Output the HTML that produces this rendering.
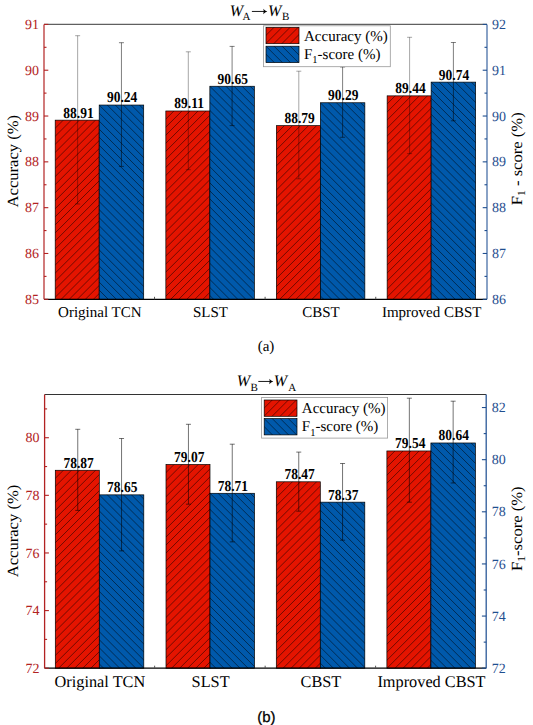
<!DOCTYPE html>
<html><head><meta charset="utf-8"><style>
html,body{margin:0;padding:0;background:#fff;}
svg{display:block;}
</style></head><body>
<svg text-rendering="geometricPrecision" width="533" height="725" viewBox="0 0 533 725" font-family="Liberation Serif, serif" fill="#000">
<defs>
<clipPath id="c0"><rect x="55.20" y="120.16" width="44.00" height="179.14"/></clipPath>
<clipPath id="c1"><rect x="99.20" y="105.04" width="44.50" height="194.26"/></clipPath>
<clipPath id="c2"><rect x="165.85" y="110.99" width="44.00" height="188.31"/></clipPath>
<clipPath id="c3"><rect x="209.85" y="86.25" width="44.50" height="213.05"/></clipPath>
<clipPath id="c4"><rect x="276.35" y="125.65" width="44.00" height="173.65"/></clipPath>
<clipPath id="c5"><rect x="320.35" y="102.75" width="44.50" height="196.55"/></clipPath>
<clipPath id="c6"><rect x="387.15" y="95.87" width="44.00" height="203.43"/></clipPath>
<clipPath id="c7"><rect x="431.15" y="82.13" width="44.50" height="217.17"/></clipPath>
<clipPath id="c8"><rect x="266.00" y="27.30" width="33.00" height="16.40"/></clipPath>
<clipPath id="c9"><rect x="266.00" y="46.20" width="33.00" height="16.40"/></clipPath>
<clipPath id="c10"><rect x="55.30" y="470.27" width="44.00" height="197.93"/></clipPath>
<clipPath id="c11"><rect x="99.30" y="494.86" width="44.50" height="173.34"/></clipPath>
<clipPath id="c12"><rect x="166.00" y="464.51" width="44.00" height="203.69"/></clipPath>
<clipPath id="c13"><rect x="210.00" y="493.29" width="44.50" height="174.91"/></clipPath>
<clipPath id="c14"><rect x="276.30" y="481.80" width="44.00" height="186.40"/></clipPath>
<clipPath id="c15"><rect x="320.30" y="502.16" width="44.50" height="166.04"/></clipPath>
<clipPath id="c16"><rect x="386.90" y="450.97" width="44.00" height="217.23"/></clipPath>
<clipPath id="c17"><rect x="430.90" y="442.98" width="44.50" height="225.22"/></clipPath>
<clipPath id="c18"><rect x="264.20" y="400.00" width="32.80" height="16.30"/></clipPath>
<clipPath id="c19"><rect x="264.20" y="418.60" width="32.80" height="16.30"/></clipPath>
</defs>
<rect x="55.20" y="120.16" width="44.00" height="179.14" fill="#E41400"/><path clip-path="url(#c0)" d="M-124.94 300.30L56.20 119.16M-116.89 300.30L64.25 119.16M-108.84 300.30L72.30 119.16M-100.79 300.30L80.35 119.16M-92.74 300.30L88.40 119.16M-84.69 300.30L96.45 119.16M-76.64 300.30L104.50 119.16M-68.59 300.30L112.55 119.16M-60.54 300.30L120.60 119.16M-52.49 300.30L128.65 119.16M-44.44 300.30L136.70 119.16M-36.39 300.30L144.75 119.16M-28.34 300.30L152.80 119.16M-20.29 300.30L160.85 119.16M-12.24 300.30L168.90 119.16M-4.19 300.30L176.95 119.16M3.86 300.30L185.00 119.16M11.91 300.30L193.05 119.16M19.96 300.30L201.10 119.16M28.01 300.30L209.15 119.16M36.06 300.30L217.20 119.16M44.11 300.30L225.25 119.16M52.16 300.30L233.30 119.16M60.21 300.30L241.35 119.16M68.26 300.30L249.40 119.16M76.31 300.30L257.45 119.16M84.36 300.30L265.50 119.16M92.41 300.30L273.55 119.16" stroke="#000" stroke-opacity="0.85" stroke-width="0.6" fill="none"/><rect x="55.20" y="120.16" width="44.00" height="179.14" fill="none" stroke="#000" stroke-width="0.7"/>
<rect x="99.20" y="105.04" width="44.50" height="194.26" fill="#0059AB"/><path clip-path="url(#c1)" d="M-111.10 104.04L85.16 300.30M-103.05 104.04L93.21 300.30M-95.00 104.04L101.26 300.30M-86.95 104.04L109.31 300.30M-78.90 104.04L117.36 300.30M-70.85 104.04L125.41 300.30M-62.80 104.04L133.46 300.30M-54.75 104.04L141.51 300.30M-46.70 104.04L149.56 300.30M-38.65 104.04L157.61 300.30M-30.60 104.04L165.66 300.30M-22.55 104.04L173.71 300.30M-14.50 104.04L181.76 300.30M-6.45 104.04L189.81 300.30M1.60 104.04L197.86 300.30M9.65 104.04L205.91 300.30M17.70 104.04L213.96 300.30M25.75 104.04L222.01 300.30M33.80 104.04L230.06 300.30M41.85 104.04L238.11 300.30M49.90 104.04L246.16 300.30M57.95 104.04L254.21 300.30M66.00 104.04L262.26 300.30M74.05 104.04L270.31 300.30M82.10 104.04L278.36 300.30M90.15 104.04L286.41 300.30M98.20 104.04L294.46 300.30M106.25 104.04L302.51 300.30M114.30 104.04L310.56 300.30M122.35 104.04L318.61 300.30M130.40 104.04L326.66 300.30M138.45 104.04L334.71 300.30" stroke="#000" stroke-opacity="0.85" stroke-width="0.6" fill="none"/><rect x="99.20" y="105.04" width="44.50" height="194.26" fill="none" stroke="#000" stroke-width="0.7"/>
<rect x="165.85" y="110.99" width="44.00" height="188.31" fill="#E41400"/><path clip-path="url(#c2)" d="M-23.46 300.30L166.85 109.99M-15.41 300.30L174.90 109.99M-7.36 300.30L182.95 109.99M0.69 300.30L191.00 109.99M8.74 300.30L199.05 109.99M16.79 300.30L207.10 109.99M24.84 300.30L215.15 109.99M32.89 300.30L223.20 109.99M40.94 300.30L231.25 109.99M48.99 300.30L239.30 109.99M57.04 300.30L247.35 109.99M65.09 300.30L255.40 109.99M73.14 300.30L263.45 109.99M81.19 300.30L271.50 109.99M89.24 300.30L279.55 109.99M97.29 300.30L287.60 109.99M105.34 300.30L295.65 109.99M113.39 300.30L303.70 109.99M121.44 300.30L311.75 109.99M129.49 300.30L319.80 109.99M137.54 300.30L327.85 109.99M145.59 300.30L335.90 109.99M153.64 300.30L343.95 109.99M161.69 300.30L352.00 109.99M169.74 300.30L360.05 109.99M177.79 300.30L368.10 109.99M185.84 300.30L376.15 109.99M193.89 300.30L384.20 109.99M201.94 300.30L392.25 109.99" stroke="#000" stroke-opacity="0.85" stroke-width="0.6" fill="none"/><rect x="165.85" y="110.99" width="44.00" height="188.31" fill="none" stroke="#000" stroke-width="0.7"/>
<rect x="209.85" y="86.25" width="44.50" height="213.05" fill="#0059AB"/><path clip-path="url(#c3)" d="M-16.55 85.25L198.50 300.30M-8.50 85.25L206.55 300.30M-0.45 85.25L214.60 300.30M7.60 85.25L222.65 300.30M15.65 85.25L230.70 300.30M23.70 85.25L238.75 300.30M31.75 85.25L246.80 300.30M39.80 85.25L254.85 300.30M47.85 85.25L262.90 300.30M55.90 85.25L270.95 300.30M63.95 85.25L279.00 300.30M72.00 85.25L287.05 300.30M80.05 85.25L295.10 300.30M88.10 85.25L303.15 300.30M96.15 85.25L311.20 300.30M104.20 85.25L319.25 300.30M112.25 85.25L327.30 300.30M120.30 85.25L335.35 300.30M128.35 85.25L343.40 300.30M136.40 85.25L351.45 300.30M144.45 85.25L359.50 300.30M152.50 85.25L367.55 300.30M160.55 85.25L375.60 300.30M168.60 85.25L383.65 300.30M176.65 85.25L391.70 300.30M184.70 85.25L399.75 300.30M192.75 85.25L407.80 300.30M200.80 85.25L415.85 300.30M208.85 85.25L423.90 300.30M216.90 85.25L431.95 300.30M224.95 85.25L440.00 300.30M233.00 85.25L448.05 300.30M241.05 85.25L456.10 300.30M249.10 85.25L464.15 300.30" stroke="#000" stroke-opacity="0.85" stroke-width="0.6" fill="none"/><rect x="209.85" y="86.25" width="44.50" height="213.05" fill="none" stroke="#000" stroke-width="0.7"/>
<rect x="276.35" y="125.65" width="44.00" height="173.65" fill="#E41400"/><path clip-path="url(#c4)" d="M101.70 300.30L277.35 124.65M109.75 300.30L285.40 124.65M117.80 300.30L293.45 124.65M125.85 300.30L301.50 124.65M133.90 300.30L309.55 124.65M141.95 300.30L317.60 124.65M150.00 300.30L325.65 124.65M158.05 300.30L333.70 124.65M166.10 300.30L341.75 124.65M174.15 300.30L349.80 124.65M182.20 300.30L357.85 124.65M190.25 300.30L365.90 124.65M198.30 300.30L373.95 124.65M206.35 300.30L382.00 124.65M214.40 300.30L390.05 124.65M222.45 300.30L398.10 124.65M230.50 300.30L406.15 124.65M238.55 300.30L414.20 124.65M246.60 300.30L422.25 124.65M254.65 300.30L430.30 124.65M262.70 300.30L438.35 124.65M270.75 300.30L446.40 124.65M278.80 300.30L454.45 124.65M286.85 300.30L462.50 124.65M294.90 300.30L470.55 124.65M302.95 300.30L478.60 124.65M311.00 300.30L486.65 124.65M319.05 300.30L494.70 124.65" stroke="#000" stroke-opacity="0.85" stroke-width="0.6" fill="none"/><rect x="276.35" y="125.65" width="44.00" height="173.65" fill="none" stroke="#000" stroke-width="0.7"/>
<rect x="320.35" y="102.75" width="44.50" height="196.55" fill="#0059AB"/><path clip-path="url(#c5)" d="M110.05 101.75L308.60 300.30M118.10 101.75L316.65 300.30M126.15 101.75L324.70 300.30M134.20 101.75L332.75 300.30M142.25 101.75L340.80 300.30M150.30 101.75L348.85 300.30M158.35 101.75L356.90 300.30M166.40 101.75L364.95 300.30M174.45 101.75L373.00 300.30M182.50 101.75L381.05 300.30M190.55 101.75L389.10 300.30M198.60 101.75L397.15 300.30M206.65 101.75L405.20 300.30M214.70 101.75L413.25 300.30M222.75 101.75L421.30 300.30M230.80 101.75L429.35 300.30M238.85 101.75L437.40 300.30M246.90 101.75L445.45 300.30M254.95 101.75L453.50 300.30M263.00 101.75L461.55 300.30M271.05 101.75L469.60 300.30M279.10 101.75L477.65 300.30M287.15 101.75L485.70 300.30M295.20 101.75L493.75 300.30M303.25 101.75L501.80 300.30M311.30 101.75L509.85 300.30M319.35 101.75L517.90 300.30M327.40 101.75L525.95 300.30M335.45 101.75L534.00 300.30M343.50 101.75L542.05 300.30M351.55 101.75L550.10 300.30M359.60 101.75L558.15 300.30" stroke="#000" stroke-opacity="0.85" stroke-width="0.6" fill="none"/><rect x="320.35" y="102.75" width="44.50" height="196.55" fill="none" stroke="#000" stroke-width="0.7"/>
<rect x="387.15" y="95.87" width="44.00" height="203.43" fill="#E41400"/><path clip-path="url(#c6)" d="M182.72 300.30L388.15 94.87M190.77 300.30L396.20 94.87M198.82 300.30L404.25 94.87M206.87 300.30L412.30 94.87M214.92 300.30L420.35 94.87M222.97 300.30L428.40 94.87M231.02 300.30L436.45 94.87M239.07 300.30L444.50 94.87M247.12 300.30L452.55 94.87M255.17 300.30L460.60 94.87M263.22 300.30L468.65 94.87M271.27 300.30L476.70 94.87M279.32 300.30L484.75 94.87M287.37 300.30L492.80 94.87M295.42 300.30L500.85 94.87M303.47 300.30L508.90 94.87M311.52 300.30L516.95 94.87M319.57 300.30L525.00 94.87M327.62 300.30L533.05 94.87M335.67 300.30L541.10 94.87M343.72 300.30L549.15 94.87M351.77 300.30L557.20 94.87M359.82 300.30L565.25 94.87M367.87 300.30L573.30 94.87M375.92 300.30L581.35 94.87M383.97 300.30L589.40 94.87M392.02 300.30L597.45 94.87M400.07 300.30L605.50 94.87M408.12 300.30L613.55 94.87M416.17 300.30L621.60 94.87M424.22 300.30L629.65 94.87" stroke="#000" stroke-opacity="0.85" stroke-width="0.6" fill="none"/><rect x="387.15" y="95.87" width="44.00" height="203.43" fill="none" stroke="#000" stroke-width="0.7"/>
<rect x="431.15" y="82.13" width="44.50" height="217.17" fill="#0059AB"/><path clip-path="url(#c7)" d="M204.75 81.13L423.92 300.30M212.80 81.13L431.97 300.30M220.85 81.13L440.02 300.30M228.90 81.13L448.07 300.30M236.95 81.13L456.12 300.30M245.00 81.13L464.17 300.30M253.05 81.13L472.22 300.30M261.10 81.13L480.27 300.30M269.15 81.13L488.32 300.30M277.20 81.13L496.37 300.30M285.25 81.13L504.42 300.30M293.30 81.13L512.47 300.30M301.35 81.13L520.52 300.30M309.40 81.13L528.57 300.30M317.45 81.13L536.62 300.30M325.50 81.13L544.67 300.30M333.55 81.13L552.72 300.30M341.60 81.13L560.77 300.30M349.65 81.13L568.82 300.30M357.70 81.13L576.87 300.30M365.75 81.13L584.92 300.30M373.80 81.13L592.97 300.30M381.85 81.13L601.02 300.30M389.90 81.13L609.07 300.30M397.95 81.13L617.12 300.30M406.00 81.13L625.17 300.30M414.05 81.13L633.22 300.30M422.10 81.13L641.27 300.30M430.15 81.13L649.32 300.30M438.20 81.13L657.37 300.30M446.25 81.13L665.42 300.30M454.30 81.13L673.47 300.30M462.35 81.13L681.52 300.30M470.40 81.13L689.57 300.30" stroke="#000" stroke-opacity="0.85" stroke-width="0.6" fill="none"/><rect x="431.15" y="82.13" width="44.50" height="217.17" fill="none" stroke="#000" stroke-width="0.7"/>
<path d="M77.65 35.70V204.00M75.15 35.70H80.15M75.15 204.00H80.15" stroke="#000" stroke-opacity="0.35" stroke-width="1" fill="none"/>
<path d="M121.45 42.70V166.40M118.95 42.70H123.95M118.95 166.40H123.95" stroke="#000" stroke-opacity="0.5" stroke-width="1" fill="none"/>
<path d="M188.30 51.80V169.70M185.80 51.80H190.80M185.80 169.70H190.80" stroke="#000" stroke-opacity="0.35" stroke-width="1" fill="none"/>
<path d="M232.10 46.40V125.60M229.60 46.40H234.60M229.60 125.60H234.60" stroke="#000" stroke-opacity="0.5" stroke-width="1" fill="none"/>
<path d="M298.80 71.20V178.80M296.30 71.20H301.30M296.30 178.80H301.30" stroke="#000" stroke-opacity="0.35" stroke-width="1" fill="none"/>
<path d="M342.60 67.00V137.30M340.10 67.00H345.10M340.10 137.30H345.10" stroke="#000" stroke-opacity="0.5" stroke-width="1" fill="none"/>
<path d="M409.60 37.30V153.60M407.10 37.30H412.10M407.10 153.60H412.10" stroke="#000" stroke-opacity="0.35" stroke-width="1" fill="none"/>
<path d="M453.40 42.50V120.80M450.90 42.50H455.90M450.90 120.80H455.90" stroke="#000" stroke-opacity="0.5" stroke-width="1" fill="none"/>
<text transform="translate(78.50 117.56) scale(1 1.13)" text-anchor="middle" font-weight="bold" font-size="13.5">88.91</text>
<text transform="translate(122.10 102.44) scale(1 1.13)" text-anchor="middle" font-weight="bold" font-size="13.5">90.24</text>
<text transform="translate(189.15 108.39) scale(1 1.13)" text-anchor="middle" font-weight="bold" font-size="13.5">89.11</text>
<text transform="translate(232.75 83.65) scale(1 1.13)" text-anchor="middle" font-weight="bold" font-size="13.5">90.65</text>
<text transform="translate(299.65 123.05) scale(1 1.13)" text-anchor="middle" font-weight="bold" font-size="13.5">88.79</text>
<text transform="translate(343.25 100.15) scale(1 1.13)" text-anchor="middle" font-weight="bold" font-size="13.5">90.29</text>
<text transform="translate(410.45 93.27) scale(1 1.13)" text-anchor="middle" font-weight="bold" font-size="13.5">89.44</text>
<text transform="translate(454.05 79.53) scale(1 1.13)" text-anchor="middle" font-weight="bold" font-size="13.5">90.74</text>
<path d="M44.00 24.40H487.00" stroke="#606060" stroke-width="1.1"/>
<path d="M44.00 299.30H487.00" stroke="#000" stroke-width="1.2"/>
<path d="M154.53 299.30v-2.5" stroke="#555" stroke-width="1"/>
<path d="M265.10 299.30v-2.5" stroke="#555" stroke-width="1"/>
<path d="M375.75 299.30v-2.5" stroke="#555" stroke-width="1"/>
<path d="M44.00 24.40V299.30" stroke="#B22222" stroke-width="1.2"/>
<path d="M44.00 299.30h4.3" stroke="#B22222" stroke-width="1.1"/>
<text x="38.90" y="303.90" text-anchor="end" font-size="14" fill="#B22222">85</text>
<path d="M44.00 253.48h4.3" stroke="#B22222" stroke-width="1.1"/>
<text x="38.90" y="258.08" text-anchor="end" font-size="14" fill="#B22222">86</text>
<path d="M44.00 207.67h4.3" stroke="#B22222" stroke-width="1.1"/>
<text x="38.90" y="212.27" text-anchor="end" font-size="14" fill="#B22222">87</text>
<path d="M44.00 161.85h4.3" stroke="#B22222" stroke-width="1.1"/>
<text x="38.90" y="166.45" text-anchor="end" font-size="14" fill="#B22222">88</text>
<path d="M44.00 116.03h4.3" stroke="#B22222" stroke-width="1.1"/>
<text x="38.90" y="120.63" text-anchor="end" font-size="14" fill="#B22222">89</text>
<path d="M44.00 70.22h4.3" stroke="#B22222" stroke-width="1.1"/>
<text x="38.90" y="74.82" text-anchor="end" font-size="14" fill="#B22222">90</text>
<path d="M44.00 24.40h4.3" stroke="#B22222" stroke-width="1.1"/>
<text x="38.90" y="29.00" text-anchor="end" font-size="14" fill="#B22222">91</text>
<path d="M44.00 276.39h2.5" stroke="#B22222" stroke-width="1.1"/>
<path d="M44.00 230.57h2.5" stroke="#B22222" stroke-width="1.1"/>
<path d="M44.00 184.76h2.5" stroke="#B22222" stroke-width="1.1"/>
<path d="M44.00 138.94h2.5" stroke="#B22222" stroke-width="1.1"/>
<path d="M44.00 93.12h2.5" stroke="#B22222" stroke-width="1.1"/>
<path d="M44.00 47.31h2.5" stroke="#B22222" stroke-width="1.1"/>
<path d="M487.00 24.40V299.30" stroke="#3A64A0" stroke-width="1.2"/>
<path d="M487.00 299.30h-4.3" stroke="#1F4E8F" stroke-width="1.1"/>
<text x="492.00" y="303.90" font-size="14" fill="#1F4E8F">86</text>
<path d="M487.00 253.48h-4.3" stroke="#1F4E8F" stroke-width="1.1"/>
<text x="492.00" y="258.08" font-size="14" fill="#1F4E8F">87</text>
<path d="M487.00 207.67h-4.3" stroke="#1F4E8F" stroke-width="1.1"/>
<text x="492.00" y="212.27" font-size="14" fill="#1F4E8F">88</text>
<path d="M487.00 161.85h-4.3" stroke="#1F4E8F" stroke-width="1.1"/>
<text x="492.00" y="166.45" font-size="14" fill="#1F4E8F">89</text>
<path d="M487.00 116.03h-4.3" stroke="#1F4E8F" stroke-width="1.1"/>
<text x="492.00" y="120.63" font-size="14" fill="#1F4E8F">90</text>
<path d="M487.00 70.22h-4.3" stroke="#1F4E8F" stroke-width="1.1"/>
<text x="492.00" y="74.82" font-size="14" fill="#1F4E8F">91</text>
<path d="M487.00 24.40h-4.3" stroke="#1F4E8F" stroke-width="1.1"/>
<text x="492.00" y="29.00" font-size="14" fill="#1F4E8F">92</text>
<path d="M487.00 276.39h-2.5" stroke="#1F4E8F" stroke-width="1.1"/>
<path d="M487.00 230.57h-2.5" stroke="#1F4E8F" stroke-width="1.1"/>
<path d="M487.00 184.76h-2.5" stroke="#1F4E8F" stroke-width="1.1"/>
<path d="M487.00 138.94h-2.5" stroke="#1F4E8F" stroke-width="1.1"/>
<path d="M487.00 93.12h-2.5" stroke="#1F4E8F" stroke-width="1.1"/>
<path d="M487.00 47.31h-2.5" stroke="#1F4E8F" stroke-width="1.1"/>
<text x="99.80" y="317.10" text-anchor="middle" font-size="15">Original TCN</text>
<text x="210.45" y="317.10" text-anchor="middle" font-size="15">SLST</text>
<text x="320.95" y="317.10" text-anchor="middle" font-size="15">CBST</text>
<text x="431.75" y="317.10" text-anchor="middle" font-size="15">Improved CBST</text>
<text transform="translate(17.9 161.20) rotate(-90) scale(1.07 1)" text-anchor="middle" font-size="15.5">Accuracy (%)</text>
<text transform="translate(522.0 158.80) rotate(-90) scale(1.07 1)" text-anchor="middle" font-size="15.5">F<tspan font-size="11" dy="3">1</tspan><tspan dy="-3"> - score (%)</tspan></text>
<rect x="263.5" y="25.8" width="126.8" height="40.9" fill="#fff" stroke="#999" stroke-width="0.8"/>
<rect x="266.00" y="27.30" width="33.00" height="16.40" fill="#E41400"/><path clip-path="url(#c8)" d="M248.60 44.70L267.00 26.30M256.65 44.70L275.05 26.30M264.70 44.70L283.10 26.30M272.75 44.70L291.15 26.30M280.80 44.70L299.20 26.30M288.85 44.70L307.25 26.30M296.90 44.70L315.30 26.30" stroke="#000" stroke-opacity="0.85" stroke-width="0.6" fill="none"/><rect x="266.00" y="27.30" width="33.00" height="16.40" fill="none" stroke="#000" stroke-width="0.7"/>
<rect x="266.00" y="46.20" width="33.00" height="16.40" fill="#0059AB"/><path clip-path="url(#c9)" d="M232.80 45.20L251.20 63.60M240.85 45.20L259.25 63.60M248.90 45.20L267.30 63.60M256.95 45.20L275.35 63.60M265.00 45.20L283.40 63.60M273.05 45.20L291.45 63.60M281.10 45.20L299.50 63.60M289.15 45.20L307.55 63.60M297.20 45.20L315.60 63.60" stroke="#000" stroke-opacity="0.85" stroke-width="0.6" fill="none"/><rect x="266.00" y="46.20" width="33.00" height="16.40" fill="none" stroke="#000" stroke-width="0.7"/>
<text x="304.0" y="40.7" font-size="15">Accuracy (%)</text>
<text x="304.0" y="59.0" font-size="15">F<tspan font-size="10.5" dy="4.2">1</tspan><tspan dy="-4.2">-score (%)</tspan></text>
<text x="229.8" y="15.8" font-size="16" font-style="italic">W</text>
<text x="242.4" y="20.3" font-size="11">A</text>
<path d="M251.90 11.45H265.30" stroke="#000" stroke-width="0.9"/><path d="M263.30 8.75Q264.80 10.85 267.30 11.45Q264.80 12.05 263.30 14.15Q264.30 11.45 263.30 8.75Z" fill="#000"/>
<text x="268.0" y="15.8" font-size="16" font-style="italic">W</text>
<text x="282.0" y="20.3" font-size="11">B</text>
<rect x="55.30" y="470.27" width="44.00" height="197.93" fill="#E41400"/><path clip-path="url(#c10)" d="M-143.63 669.20L56.30 469.27M-135.58 669.20L64.35 469.27M-127.53 669.20L72.40 469.27M-119.48 669.20L80.45 469.27M-111.43 669.20L88.50 469.27M-103.38 669.20L96.55 469.27M-95.33 669.20L104.60 469.27M-87.28 669.20L112.65 469.27M-79.23 669.20L120.70 469.27M-71.18 669.20L128.75 469.27M-63.13 669.20L136.80 469.27M-55.08 669.20L144.85 469.27M-47.03 669.20L152.90 469.27M-38.98 669.20L160.95 469.27M-30.93 669.20L169.00 469.27M-22.88 669.20L177.05 469.27M-14.83 669.20L185.10 469.27M-6.78 669.20L193.15 469.27M1.27 669.20L201.20 469.27M9.32 669.20L209.25 469.27M17.37 669.20L217.30 469.27M25.42 669.20L225.35 469.27M33.47 669.20L233.40 469.27M41.52 669.20L241.45 469.27M49.57 669.20L249.50 469.27M57.62 669.20L257.55 469.27M65.67 669.20L265.60 469.27M73.72 669.20L273.65 469.27M81.77 669.20L281.70 469.27M89.82 669.20L289.75 469.27M97.87 669.20L297.80 469.27" stroke="#000" stroke-opacity="0.85" stroke-width="0.6" fill="none"/><rect x="55.30" y="470.27" width="44.00" height="197.93" fill="none" stroke="#000" stroke-width="0.7"/>
<rect x="99.30" y="494.86" width="44.50" height="173.34" fill="#0059AB"/><path clip-path="url(#c11)" d="M-86.85 493.86L88.49 669.20M-78.80 493.86L96.54 669.20M-70.75 493.86L104.59 669.20M-62.70 493.86L112.64 669.20M-54.65 493.86L120.69 669.20M-46.60 493.86L128.74 669.20M-38.55 493.86L136.79 669.20M-30.50 493.86L144.84 669.20M-22.45 493.86L152.89 669.20M-14.40 493.86L160.94 669.20M-6.35 493.86L168.99 669.20M1.70 493.86L177.04 669.20M9.75 493.86L185.09 669.20M17.80 493.86L193.14 669.20M25.85 493.86L201.19 669.20M33.90 493.86L209.24 669.20M41.95 493.86L217.29 669.20M50.00 493.86L225.34 669.20M58.05 493.86L233.39 669.20M66.10 493.86L241.44 669.20M74.15 493.86L249.49 669.20M82.20 493.86L257.54 669.20M90.25 493.86L265.59 669.20M98.30 493.86L273.64 669.20M106.35 493.86L281.69 669.20M114.40 493.86L289.74 669.20M122.45 493.86L297.79 669.20M130.50 493.86L305.84 669.20M138.55 493.86L313.89 669.20" stroke="#000" stroke-opacity="0.85" stroke-width="0.6" fill="none"/><rect x="99.30" y="494.86" width="44.50" height="173.34" fill="none" stroke="#000" stroke-width="0.7"/>
<rect x="166.00" y="464.51" width="44.00" height="203.69" fill="#E41400"/><path clip-path="url(#c12)" d="M-38.69 669.20L167.00 463.51M-30.64 669.20L175.05 463.51M-22.59 669.20L183.10 463.51M-14.54 669.20L191.15 463.51M-6.49 669.20L199.20 463.51M1.56 669.20L207.25 463.51M9.61 669.20L215.30 463.51M17.66 669.20L223.35 463.51M25.71 669.20L231.40 463.51M33.76 669.20L239.45 463.51M41.81 669.20L247.50 463.51M49.86 669.20L255.55 463.51M57.91 669.20L263.60 463.51M65.96 669.20L271.65 463.51M74.01 669.20L279.70 463.51M82.06 669.20L287.75 463.51M90.11 669.20L295.80 463.51M98.16 669.20L303.85 463.51M106.21 669.20L311.90 463.51M114.26 669.20L319.95 463.51M122.31 669.20L328.00 463.51M130.36 669.20L336.05 463.51M138.41 669.20L344.10 463.51M146.46 669.20L352.15 463.51M154.51 669.20L360.20 463.51M162.56 669.20L368.25 463.51M170.61 669.20L376.30 463.51M178.66 669.20L384.35 463.51M186.71 669.20L392.40 463.51M194.76 669.20L400.45 463.51M202.81 669.20L408.50 463.51" stroke="#000" stroke-opacity="0.85" stroke-width="0.6" fill="none"/><rect x="166.00" y="464.51" width="44.00" height="203.69" fill="none" stroke="#000" stroke-width="0.7"/>
<rect x="210.00" y="493.29" width="44.50" height="174.91" fill="#0059AB"/><path clip-path="url(#c13)" d="M23.85 492.29L200.76 669.20M31.90 492.29L208.81 669.20M39.95 492.29L216.86 669.20M48.00 492.29L224.91 669.20M56.05 492.29L232.96 669.20M64.10 492.29L241.01 669.20M72.15 492.29L249.06 669.20M80.20 492.29L257.11 669.20M88.25 492.29L265.16 669.20M96.30 492.29L273.21 669.20M104.35 492.29L281.26 669.20M112.40 492.29L289.31 669.20M120.45 492.29L297.36 669.20M128.50 492.29L305.41 669.20M136.55 492.29L313.46 669.20M144.60 492.29L321.51 669.20M152.65 492.29L329.56 669.20M160.70 492.29L337.61 669.20M168.75 492.29L345.66 669.20M176.80 492.29L353.71 669.20M184.85 492.29L361.76 669.20M192.90 492.29L369.81 669.20M200.95 492.29L377.86 669.20M209.00 492.29L385.91 669.20M217.05 492.29L393.96 669.20M225.10 492.29L402.01 669.20M233.15 492.29L410.06 669.20M241.20 492.29L418.11 669.20M249.25 492.29L426.16 669.20" stroke="#000" stroke-opacity="0.85" stroke-width="0.6" fill="none"/><rect x="210.00" y="493.29" width="44.50" height="174.91" fill="none" stroke="#000" stroke-width="0.7"/>
<rect x="276.30" y="481.80" width="44.00" height="186.40" fill="#E41400"/><path clip-path="url(#c14)" d="M88.90 669.20L277.30 480.80M96.95 669.20L285.35 480.80M105.00 669.20L293.40 480.80M113.05 669.20L301.45 480.80M121.10 669.20L309.50 480.80M129.15 669.20L317.55 480.80M137.20 669.20L325.60 480.80M145.25 669.20L333.65 480.80M153.30 669.20L341.70 480.80M161.35 669.20L349.75 480.80M169.40 669.20L357.80 480.80M177.45 669.20L365.85 480.80M185.50 669.20L373.90 480.80M193.55 669.20L381.95 480.80M201.60 669.20L390.00 480.80M209.65 669.20L398.05 480.80M217.70 669.20L406.10 480.80M225.75 669.20L414.15 480.80M233.80 669.20L422.20 480.80M241.85 669.20L430.25 480.80M249.90 669.20L438.30 480.80M257.95 669.20L446.35 480.80M266.00 669.20L454.40 480.80M274.05 669.20L462.45 480.80M282.10 669.20L470.50 480.80M290.15 669.20L478.55 480.80M298.20 669.20L486.60 480.80M306.25 669.20L494.65 480.80M314.30 669.20L502.70 480.80" stroke="#000" stroke-opacity="0.85" stroke-width="0.6" fill="none"/><rect x="276.30" y="481.80" width="44.00" height="186.40" fill="none" stroke="#000" stroke-width="0.7"/>
<rect x="320.30" y="502.16" width="44.50" height="166.04" fill="#0059AB"/><path clip-path="url(#c15)" d="M142.20 501.16L310.24 669.20M150.25 501.16L318.29 669.20M158.30 501.16L326.34 669.20M166.35 501.16L334.39 669.20M174.40 501.16L342.44 669.20M182.45 501.16L350.49 669.20M190.50 501.16L358.54 669.20M198.55 501.16L366.59 669.20M206.60 501.16L374.64 669.20M214.65 501.16L382.69 669.20M222.70 501.16L390.74 669.20M230.75 501.16L398.79 669.20M238.80 501.16L406.84 669.20M246.85 501.16L414.89 669.20M254.90 501.16L422.94 669.20M262.95 501.16L430.99 669.20M271.00 501.16L439.04 669.20M279.05 501.16L447.09 669.20M287.10 501.16L455.14 669.20M295.15 501.16L463.19 669.20M303.20 501.16L471.24 669.20M311.25 501.16L479.29 669.20M319.30 501.16L487.34 669.20M327.35 501.16L495.39 669.20M335.40 501.16L503.44 669.20M343.45 501.16L511.49 669.20M351.50 501.16L519.54 669.20M359.55 501.16L527.59 669.20" stroke="#000" stroke-opacity="0.85" stroke-width="0.6" fill="none"/><rect x="320.30" y="502.16" width="44.50" height="166.04" fill="none" stroke="#000" stroke-width="0.7"/>
<rect x="386.90" y="450.97" width="44.00" height="217.23" fill="#E41400"/><path clip-path="url(#c16)" d="M168.67 669.20L387.90 449.97M176.72 669.20L395.95 449.97M184.77 669.20L404.00 449.97M192.82 669.20L412.05 449.97M200.87 669.20L420.10 449.97M208.92 669.20L428.15 449.97M216.97 669.20L436.20 449.97M225.02 669.20L444.25 449.97M233.07 669.20L452.30 449.97M241.12 669.20L460.35 449.97M249.17 669.20L468.40 449.97M257.22 669.20L476.45 449.97M265.27 669.20L484.50 449.97M273.32 669.20L492.55 449.97M281.37 669.20L500.60 449.97M289.42 669.20L508.65 449.97M297.47 669.20L516.70 449.97M305.52 669.20L524.75 449.97M313.57 669.20L532.80 449.97M321.62 669.20L540.85 449.97M329.67 669.20L548.90 449.97M337.72 669.20L556.95 449.97M345.77 669.20L565.00 449.97M353.82 669.20L573.05 449.97M361.87 669.20L581.10 449.97M369.92 669.20L589.15 449.97M377.97 669.20L597.20 449.97M386.02 669.20L605.25 449.97M394.07 669.20L613.30 449.97M402.12 669.20L621.35 449.97M410.17 669.20L629.40 449.97M418.22 669.20L637.45 449.97M426.27 669.20L645.50 449.97" stroke="#000" stroke-opacity="0.85" stroke-width="0.6" fill="none"/><rect x="386.90" y="450.97" width="44.00" height="217.23" fill="none" stroke="#000" stroke-width="0.7"/>
<rect x="430.90" y="442.98" width="44.50" height="225.22" fill="#0059AB"/><path clip-path="url(#c17)" d="M196.45 441.98L423.67 669.20M204.50 441.98L431.72 669.20M212.55 441.98L439.77 669.20M220.60 441.98L447.82 669.20M228.65 441.98L455.87 669.20M236.70 441.98L463.92 669.20M244.75 441.98L471.97 669.20M252.80 441.98L480.02 669.20M260.85 441.98L488.07 669.20M268.90 441.98L496.12 669.20M276.95 441.98L504.17 669.20M285.00 441.98L512.22 669.20M293.05 441.98L520.27 669.20M301.10 441.98L528.32 669.20M309.15 441.98L536.37 669.20M317.20 441.98L544.42 669.20M325.25 441.98L552.47 669.20M333.30 441.98L560.52 669.20M341.35 441.98L568.57 669.20M349.40 441.98L576.62 669.20M357.45 441.98L584.67 669.20M365.50 441.98L592.72 669.20M373.55 441.98L600.77 669.20M381.60 441.98L608.82 669.20M389.65 441.98L616.87 669.20M397.70 441.98L624.92 669.20M405.75 441.98L632.97 669.20M413.80 441.98L641.02 669.20M421.85 441.98L649.07 669.20M429.90 441.98L657.12 669.20M437.95 441.98L665.17 669.20M446.00 441.98L673.22 669.20M454.05 441.98L681.27 669.20M462.10 441.98L689.32 669.20M470.15 441.98L697.37 669.20" stroke="#000" stroke-opacity="0.85" stroke-width="0.6" fill="none"/><rect x="430.90" y="442.98" width="44.50" height="225.22" fill="none" stroke="#000" stroke-width="0.7"/>
<path d="M77.75 429.30V510.40M75.25 429.30H80.25M75.25 510.40H80.25" stroke="#000" stroke-opacity="0.55" stroke-width="1" fill="none"/>
<path d="M121.55 438.50V550.90M119.05 438.50H124.05M119.05 550.90H124.05" stroke="#000" stroke-opacity="0.55" stroke-width="1" fill="none"/>
<path d="M188.45 424.30V504.20M185.95 424.30H190.95M185.95 504.20H190.95" stroke="#000" stroke-opacity="0.55" stroke-width="1" fill="none"/>
<path d="M232.25 444.20V541.90M229.75 444.20H234.75M229.75 541.90H234.75" stroke="#000" stroke-opacity="0.55" stroke-width="1" fill="none"/>
<path d="M298.75 452.10V511.20M296.25 452.10H301.25M296.25 511.20H301.25" stroke="#000" stroke-opacity="0.55" stroke-width="1" fill="none"/>
<path d="M342.55 463.50V540.20M340.05 463.50H345.05M340.05 540.20H345.05" stroke="#000" stroke-opacity="0.55" stroke-width="1" fill="none"/>
<path d="M409.35 398.20V502.20M406.85 398.20H411.85M406.85 502.20H411.85" stroke="#000" stroke-opacity="0.55" stroke-width="1" fill="none"/>
<path d="M453.15 401.20V483.00M450.65 401.20H455.65M450.65 483.00H455.65" stroke="#000" stroke-opacity="0.55" stroke-width="1" fill="none"/>
<text transform="translate(78.60 467.67) scale(1 1.13)" text-anchor="middle" font-weight="bold" font-size="13.5">78.87</text>
<text transform="translate(122.20 492.26) scale(1 1.13)" text-anchor="middle" font-weight="bold" font-size="13.5">78.65</text>
<text transform="translate(189.30 461.91) scale(1 1.13)" text-anchor="middle" font-weight="bold" font-size="13.5">79.07</text>
<text transform="translate(232.90 490.69) scale(1 1.13)" text-anchor="middle" font-weight="bold" font-size="13.5">78.71</text>
<text transform="translate(299.60 479.20) scale(1 1.13)" text-anchor="middle" font-weight="bold" font-size="13.5">78.47</text>
<text transform="translate(343.20 499.56) scale(1 1.13)" text-anchor="middle" font-weight="bold" font-size="13.5">78.37</text>
<text transform="translate(410.20 448.37) scale(1 1.13)" text-anchor="middle" font-weight="bold" font-size="13.5">79.54</text>
<text transform="translate(453.80 440.38) scale(1 1.13)" text-anchor="middle" font-weight="bold" font-size="13.5">80.64</text>
<path d="M44.60 394.50H486.20" stroke="#333" stroke-width="1.1"/>
<path d="M44.60 668.20H486.20" stroke="#000" stroke-width="1.2"/>
<path d="M154.65 668.20v-2.5" stroke="#555" stroke-width="1"/>
<path d="M265.15 668.20v-2.5" stroke="#555" stroke-width="1"/>
<path d="M375.60 668.20v-2.5" stroke="#555" stroke-width="1"/>
<path d="M44.60 394.50V668.20" stroke="#B22222" stroke-width="1.3"/>
<path d="M44.60 668.20h4.3" stroke="#B22222" stroke-width="1.1"/>
<text x="39.50" y="672.80" text-anchor="end" font-size="14" fill="#B22222">72</text>
<path d="M44.60 610.58h4.3" stroke="#B22222" stroke-width="1.1"/>
<text x="39.50" y="615.18" text-anchor="end" font-size="14" fill="#B22222">74</text>
<path d="M44.60 552.96h4.3" stroke="#B22222" stroke-width="1.1"/>
<text x="39.50" y="557.56" text-anchor="end" font-size="14" fill="#B22222">76</text>
<path d="M44.60 495.34h4.3" stroke="#B22222" stroke-width="1.1"/>
<text x="39.50" y="499.94" text-anchor="end" font-size="14" fill="#B22222">78</text>
<path d="M44.60 437.72h4.3" stroke="#B22222" stroke-width="1.1"/>
<text x="39.50" y="442.32" text-anchor="end" font-size="14" fill="#B22222">80</text>
<path d="M44.60 639.39h2.5" stroke="#B22222" stroke-width="1.1"/>
<path d="M44.60 581.77h2.5" stroke="#B22222" stroke-width="1.1"/>
<path d="M44.60 524.15h2.5" stroke="#B22222" stroke-width="1.1"/>
<path d="M44.60 466.53h2.5" stroke="#B22222" stroke-width="1.1"/>
<path d="M44.60 408.91h2.5" stroke="#B22222" stroke-width="1.1"/>
<path d="M486.20 394.50V668.20" stroke="#2A5898" stroke-width="1.3"/>
<path d="M486.20 668.20h-4.3" stroke="#1F4E8F" stroke-width="1.1"/>
<text x="491.80" y="672.80" font-size="14" fill="#1F4E8F">72</text>
<path d="M486.20 616.07h-4.3" stroke="#1F4E8F" stroke-width="1.1"/>
<text x="491.80" y="620.67" font-size="14" fill="#1F4E8F">74</text>
<path d="M486.20 563.93h-4.3" stroke="#1F4E8F" stroke-width="1.1"/>
<text x="491.80" y="568.53" font-size="14" fill="#1F4E8F">76</text>
<path d="M486.20 511.80h-4.3" stroke="#1F4E8F" stroke-width="1.1"/>
<text x="491.80" y="516.40" font-size="14" fill="#1F4E8F">78</text>
<path d="M486.20 459.67h-4.3" stroke="#1F4E8F" stroke-width="1.1"/>
<text x="491.80" y="464.27" font-size="14" fill="#1F4E8F">80</text>
<path d="M486.20 407.53h-4.3" stroke="#1F4E8F" stroke-width="1.1"/>
<text x="491.80" y="412.13" font-size="14" fill="#1F4E8F">82</text>
<path d="M486.20 642.13h-2.5" stroke="#1F4E8F" stroke-width="1.1"/>
<path d="M486.20 590.00h-2.5" stroke="#1F4E8F" stroke-width="1.1"/>
<path d="M486.20 537.87h-2.5" stroke="#1F4E8F" stroke-width="1.1"/>
<path d="M486.20 485.73h-2.5" stroke="#1F4E8F" stroke-width="1.1"/>
<path d="M486.20 433.60h-2.5" stroke="#1F4E8F" stroke-width="1.1"/>
<text x="99.90" y="687.30" text-anchor="middle" font-size="16.3">Original TCN</text>
<text x="210.60" y="687.30" text-anchor="middle" font-size="16.3">SLST</text>
<text x="320.90" y="687.30" text-anchor="middle" font-size="16.3">CBST</text>
<text x="431.50" y="687.30" text-anchor="middle" font-size="16.3">Improved CBST</text>
<text transform="translate(17.9 531.00) rotate(-90) scale(1.07 1)" text-anchor="middle" font-size="15.5">Accuracy (%)</text>
<text transform="translate(521.8 528.70) rotate(-90) scale(1.07 1)" text-anchor="middle" font-size="15.5">F<tspan font-size="11" dy="3">1</tspan><tspan dy="-3">-score (%)</tspan></text>
<rect x="261.6" y="397.4" width="126" height="40.7" fill="#fff" stroke="#999" stroke-width="0.8"/>
<rect x="264.20" y="400.00" width="32.80" height="16.30" fill="#E41400"/><path clip-path="url(#c18)" d="M246.90 417.30L265.20 399.00M254.95 417.30L273.25 399.00M263.00 417.30L281.30 399.00M271.05 417.30L289.35 399.00M279.10 417.30L297.40 399.00M287.15 417.30L305.45 399.00M295.20 417.30L313.50 399.00" stroke="#000" stroke-opacity="0.85" stroke-width="0.6" fill="none"/><rect x="264.20" y="400.00" width="32.80" height="16.30" fill="none" stroke="#000" stroke-width="0.7"/>
<rect x="264.20" y="418.60" width="32.80" height="16.30" fill="#0059AB"/><path clip-path="url(#c19)" d="M231.00 417.60L249.30 435.90M239.05 417.60L257.35 435.90M247.10 417.60L265.40 435.90M255.15 417.60L273.45 435.90M263.20 417.60L281.50 435.90M271.25 417.60L289.55 435.90M279.30 417.60L297.60 435.90M287.35 417.60L305.65 435.90M295.40 417.60L313.70 435.90" stroke="#000" stroke-opacity="0.85" stroke-width="0.6" fill="none"/><rect x="264.20" y="418.60" width="32.80" height="16.30" fill="none" stroke="#000" stroke-width="0.7"/>
<text x="301.8" y="413.0" font-size="15">Accuracy (%)</text>
<text x="301.8" y="431.3" font-size="15">F<tspan font-size="10.5" dy="4.2">1</tspan><tspan dy="-4.2">-score (%)</tspan></text>
<text x="236.7" y="385.8" font-size="16" font-style="italic">W</text>
<text x="250.5" y="390.5" font-size="11">B</text>
<path d="M258.30 381.45H271.30" stroke="#000" stroke-width="0.9"/><path d="M269.30 378.75Q270.80 380.85 273.30 381.45Q270.80 382.05 269.30 384.15Q270.30 381.45 269.30 378.75Z" fill="#000"/>
<text x="273.8" y="385.8" font-size="16" font-style="italic">W</text>
<text x="288.2" y="390.5" font-size="11">A</text>
<text x="266" y="351.3" text-anchor="middle" font-size="15">(a)</text>
<text x="266.4" y="721.9" text-anchor="middle" font-size="15" font-family="Liberation Sans, sans-serif" stroke="#000" stroke-width="0.25">(b)</text>
</svg>
</body></html>
